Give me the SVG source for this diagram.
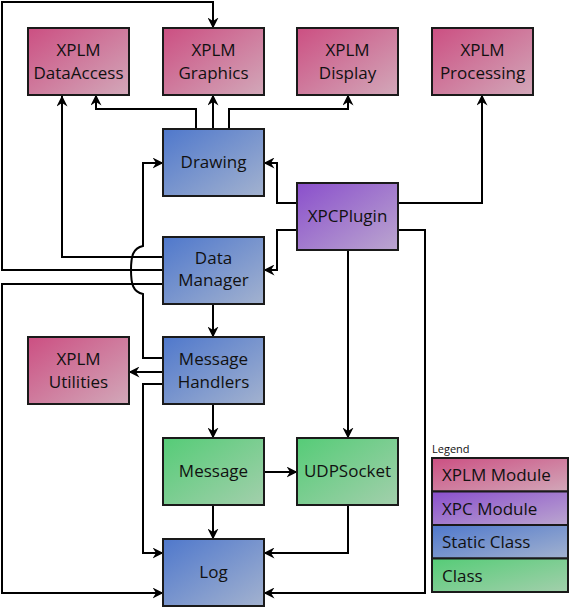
<svg xmlns="http://www.w3.org/2000/svg" width="569" height="608" viewBox="0 0 569 608">
<style>
.box{stroke:#1a1a1a;stroke-width:2}
.lbl{font-family:"Open Sans","Noto Sans",sans-serif;font-size:17px;fill:#111;text-anchor:middle}
.leg{font-family:"Open Sans","Noto Sans",sans-serif;font-size:17px;fill:#111}
.conn path{fill:none;stroke:#000;stroke-width:2;marker-end:url(#arr)}
</style>
<defs>
<linearGradient id="gx" x1="0" y1="0" x2="1" y2="1"><stop offset="0" stop-color="#cc4f82"/><stop offset="1" stop-color="#d2a8b9"/></linearGradient>
<linearGradient id="gp" x1="0" y1="0" x2="1" y2="1"><stop offset="0" stop-color="#8a4fcc"/><stop offset="1" stop-color="#bba6cf"/></linearGradient>
<linearGradient id="gb" x1="0" y1="0" x2="1" y2="1"><stop offset="0" stop-color="#4f78cc"/><stop offset="1" stop-color="#a3b2cf"/></linearGradient>
<linearGradient id="gg" x1="0" y1="0" x2="1" y2="1"><stop offset="0" stop-color="#55cc77"/><stop offset="1" stop-color="#a3cfac"/></linearGradient>
<marker id="arr" markerUnits="userSpaceOnUse" viewBox="0 0 11 11" markerWidth="11" markerHeight="11" refX="10.5" refY="5.5" orient="auto">
<path d="M0,0 L11,5.5 L0,11 L3.5,5.5 z" fill="#000"/>
</marker>
</defs>

<g id="connectors" class="conn">
<path d="M163,270 H2 V2 H213 V28"/>
<path d="M163,257 H62 V96"/>
<path d="M163,284 H2 V593 H163"/>
<path d="M163,358 H143 V294 C133,292 131,284 131,270 C131,256 133,248 143,246 V163 H163"/>
<path d="M163,372 H129"/>
<path d="M163,384 H143 V553 H163"/>
<path d="M213,304 V337"/>
<path d="M213,404 V438"/>
<path d="M264,472 H297"/>
<path d="M213,505 V539"/>
<path d="M348,505 V553 H264"/>
<path d="M398,230 H425 V593 H264"/>
<path d="M348,250 V438"/>
<path d="M398,203 H482 V95"/>
<path d="M297,203 H277 V163 H264"/>
<path d="M297,230 H277 V270 H264"/>
<path d="M196,129 V109 H96 V95"/>
<path d="M213,129 V95"/>
<path d="M229,129 V109 H348 V95"/>
</g>

<g id="xplm-dataaccess"><rect class="box" x="28" y="28" width="101" height="67" fill="url(#gx)"/><text class="lbl" x="78.5" y="56">XPLM</text><text class="lbl" x="78.5" y="79">DataAccess</text></g>
<g id="xplm-graphics"><rect class="box" x="163" y="28" width="101" height="67" fill="url(#gx)"/><text class="lbl" x="213.5" y="56">XPLM</text><text class="lbl" x="213.5" y="79">Graphics</text></g>
<g id="xplm-display"><rect class="box" x="297" y="28" width="101" height="67" fill="url(#gx)"/><text class="lbl" x="347.5" y="56">XPLM</text><text class="lbl" x="347.5" y="79">Display</text></g>
<g id="xplm-processing"><rect class="box" x="432" y="28" width="101" height="67" fill="url(#gx)"/><text class="lbl" x="482.5" y="56">XPLM</text><text class="lbl" x="482.5" y="79">Processing</text></g>
<g id="drawing"><rect class="box" x="163" y="129" width="101" height="67" fill="url(#gb)"/><text class="lbl" x="213.5" y="168">Drawing</text></g>
<g id="xpcplugin"><rect class="box" x="297" y="183" width="101" height="67" fill="url(#gp)"/><text class="lbl" x="347.5" y="222">XPCPlugin</text></g>
<g id="data-manager"><rect class="box" x="163" y="237" width="101" height="67" fill="url(#gb)"/><text class="lbl" x="213.5" y="264">Data</text><text class="lbl" x="213.5" y="286">Manager</text></g>
<g id="xplm-utilities"><rect class="box" x="28" y="337" width="101" height="67" fill="url(#gx)"/><text class="lbl" x="78.5" y="365">XPLM</text><text class="lbl" x="78.5" y="388">Utilities</text></g>
<g id="message-handlers"><rect class="box" x="163" y="337" width="101" height="67" fill="url(#gb)"/><text class="lbl" x="213.5" y="365">Message</text><text class="lbl" x="213.5" y="388">Handlers</text></g>
<g id="message"><rect class="box" x="163" y="438" width="101" height="67" fill="url(#gg)"/><text class="lbl" x="213.5" y="477">Message</text></g>
<g id="udpsocket"><rect class="box" x="297" y="438" width="101" height="67" fill="url(#gg)"/><text class="lbl" x="347.5" y="477">UDPSocket</text></g>
<g id="log"><rect class="box" x="163" y="539" width="101" height="67" fill="url(#gb)"/><text class="lbl" x="213.5" y="578">Log</text></g>

<g id="legend">
<text x="432" y="453" style="font-family:'Open Sans','Noto Sans',sans-serif;font-size:11px;fill:#111">Legend</text>
<rect class="box" x="432" y="458" width="136" height="33.5" fill="url(#gx)"/>
<rect class="box" x="432" y="491.5" width="136" height="33.5" fill="url(#gp)"/>
<rect class="box" x="432" y="525" width="136" height="33.5" fill="url(#gb)"/>
<rect class="box" x="432" y="558.5" width="136" height="33.5" fill="url(#gg)"/>
<text class="leg" x="442" y="481">XPLM Module</text>
<text class="leg" x="442" y="514.5">XPC Module</text>
<text class="leg" x="442" y="548">Static Class</text>
<text class="leg" x="442" y="581.5">Class</text>
</g>
</svg>
